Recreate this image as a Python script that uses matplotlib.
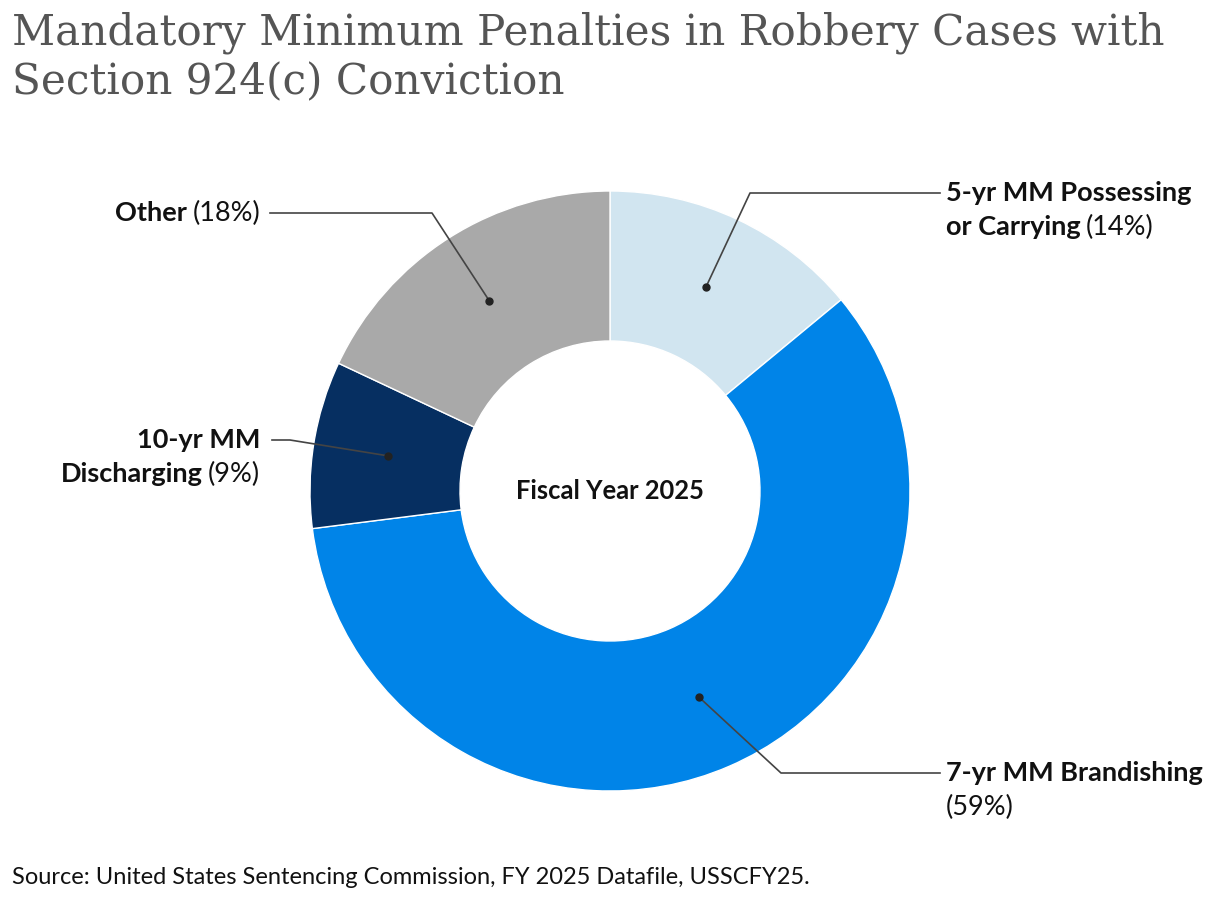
import numpy as np
import matplotlib.pyplot as plt

labels_bold = ["5-yr MM Possessing\nor Carrying", "7-yr MM Brandishing", "10-yr MM\nDischarging", "Other"]
shares = [14, 59, 9, 18]
colors = ["#d1e5f0", "#0084e8", "#062f61", "#a9a9a9"]

W, H = 1220, 902
fig = plt.figure(figsize=(W / 100, H / 100), dpi=100)
ax = fig.add_axes([0, 0, 1, 1])

cx, cy, R = 610, H - 491, 300
ax.pie(shares, colors=colors, startangle=90, counterclock=False, center=(cx, cy), radius=R,
       wedgeprops=dict(width=150, edgecolor="white", linewidth=1), frame=True)
ax.set_xlim(0, W)
ax.set_ylim(0, H)
ax.axis("off")

ax.text(cx, cy, "Fiscal Year 2025", ha="center", va="center", fontsize=18.4, fontweight="bold",
        family="Lato", color="#111")

fig.text(12 / W, 1 - 12 / H, "Mandatory Minimum Penalties in Robbery Cases with\nSection 924(c) Conviction",
         fontsize=30.3, family="DejaVu Serif", color="#555555", va="top", linespacing=1.2)
fig.text(12 / W, 1 - 878 / H, "Source: United States Sentencing Commission, FY 2025 Datafile, USSCFY25.",
         fontsize=17, family="Lato", color="#111", va="center")

# leader layout: elbow point, line end, text anchor (x, y of first line), alignment
layout = [
    ((750, 193), (940, 193), (946, 193), "left"),
    ((781, 773), (940, 773), (946, 773), "left"),
    ((290, 440), (272, 440), (260, 440), "right"),
    ((432, 213), (270, 213), (260, 213), "right"),
]

fs = 19.5
fig.canvas.draw()
renderer = fig.canvas.get_renderer()
start = 90.0
for name, pct, (elb, lend, tpos, ha) in zip(labels_bold, shares, layout):
    mid = np.deg2rad(start - pct * 3.6 / 2)
    start -= pct * 3.6
    dx, dy = cx + 225 * np.cos(mid), cy + 225 * np.sin(mid)
    ex, ey = elb[0], H - elb[1]
    ax.plot([dx, ex, lend[0]], [dy, ey, H - lend[1]], color="#444", lw=1.2)
    ax.plot(dx, dy, "o", color="#222", ms=5)

    lines = name.split("\n")
    tx, ty = tpos[0], H - tpos[1]
    if ha == "left":
        for i, ln in enumerate(lines):
            t = ax.text(tx, ty - i * 34, ln, fontsize=fs, fontweight="bold", family="Lato",
                        va="center", ha="left", color="#111")
        if len(lines) == 2:
            bb = t.get_window_extent(renderer)
            ax.text(bb.x1 + 5, ty - 34, f"({pct}%)", fontsize=fs, family="Lato", va="center", color="#111")
        else:
            ax.text(tx, ty - 34, f"({pct}%)", fontsize=fs, family="Lato", va="center", color="#111")
    else:
        pt = ax.text(tx, ty - (len(lines) - 1) * 34, f"({pct}%)", fontsize=fs, family="Lato",
                     va="center", ha="right", color="#111")
        bb = pt.get_window_extent(renderer)
        for i, ln in enumerate(lines):
            last = i == len(lines) - 1
            x = bb.x0 - 5 if last else tx
            ax.text(x, ty - i * 34, ln, fontsize=fs, fontweight="bold", family="Lato",
                    va="center", ha="right", color="#111")

fig.savefig("out.png", dpi=100)
